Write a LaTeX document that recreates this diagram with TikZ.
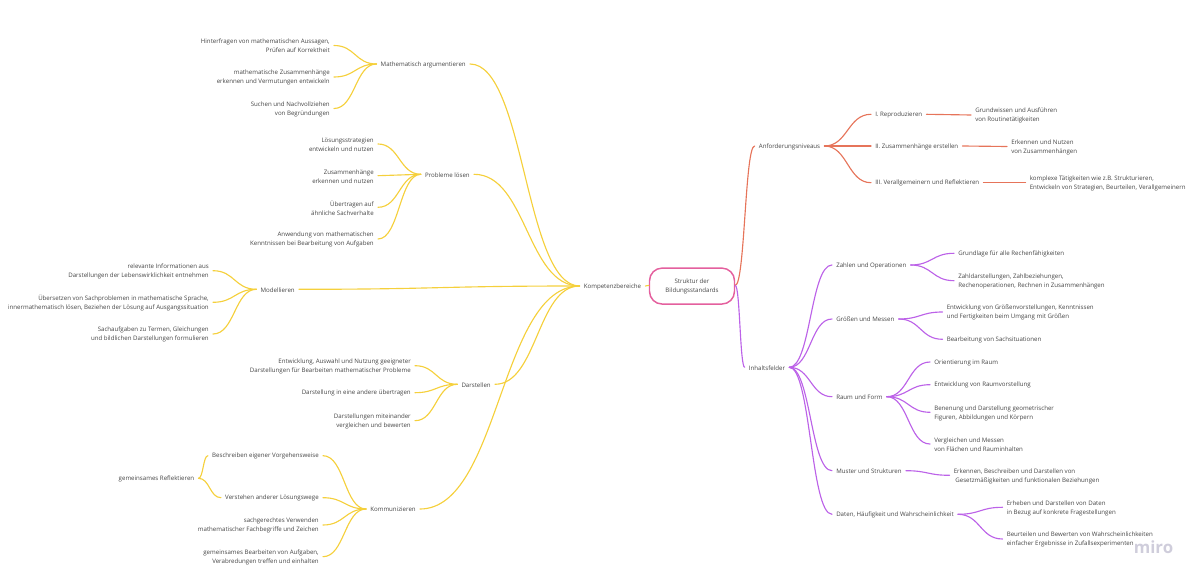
\documentclass[tikz,border=0pt]{standalone}
\usepackage{fontspec}
\setmainfont{Open Sans}
\usetikzlibrary{calc}
\definecolor{yel}{HTML}{F5D03C}
\definecolor{ora}{HTML}{E6745A}
\definecolor{pur}{HTML}{BC62E8}
\definecolor{pnk}{HTML}{E4609E}
\definecolor{txt}{HTML}{454545}
\definecolor{mir}{HTML}{CFCDDB}
\newcommand{\lnk}[3]{\draw[#1,transform canvas={yshift=0.5pt}] (#2) .. controls ($(#2)!0.5!(#3 |- #2)$) and ($(#3)!0.5!(#2 |- #3)$) .. (#3);}
\tikzset{
 base/.style={font=\fontsize{4.6pt}{6.75pt}\selectfont,text=txt,inner xsep=3pt,inner ysep=0pt},
 lbl/.style={base,anchor=east,align=right},
 rbl/.style={base,anchor=west,align=left},
 mid/.style={base,anchor=center,align=center},
 yl/.style={draw=yel,line width=0.85pt,line cap=round},
 og/.style={draw=ora,line width=0.85pt,line cap=round},
 pp/.style={draw=pur,line width=0.85pt,line cap=round},
 rootbox/.style={base,draw=pnk,line width=1.1pt,rounded corners=9.5pt,minimum width=63.75pt,minimum height=27pt,align=center,inner xsep=0pt}
}
\begin{document}
\begin{tikzpicture}[x=0.75pt,y=-0.75pt]
\useasboundingbox (0,0) rectangle (1200,581);
\begin{scope}[yshift=-0.5pt]
% root
\node[rootbox] (root) at (692,285.4) {Struktur der\\Bildungsstandards};
\node[mid] (komp) at (612.5,286) {Kompetenzbereiche};
\node[mid] (anf) at (789.5,146) {Anforderungsniveaus};
\node[mid] (inh) at (767,367.3) {Inhaltsfelder};
% left level 2
\node[lbl] (ma) at (470,64) {Mathematisch argumentieren};
\node[lbl] (pl) at (474,174.3) {Probleme lösen};
\node[lbl] (mo) at (299,289.3) {Modellieren};
\node[lbl] (da) at (495,384.3) {Darstellen};
\node[lbl] (ko) at (420,509) {Kommunizieren};
% left level 3
\node[lbl] (ma1) at (334,45.5) {Hinterfragen von mathematischen Aussagen,\\Prüfen auf Korrektheit};
\node[lbl] (ma2) at (334,77) {mathematische Zusammenhänge\\erkennen und Vermutungen entwickeln};
\node[lbl] (ma3) at (334,108.5) {Suchen und Nachvollziehen\\von Begründungen};
\node[lbl] (pl1) at (378,144) {Lösungsstrategien\\entwickeln und nutzen};
\node[lbl] (pl2) at (378,175.7) {Zusammenhänge\\erkennen und nutzen};
\node[lbl] (pl3) at (378,207.3) {Übertragen auf\\ähnliche Sachverhalte};
\node[lbl] (pl4) at (378,239) {Anwendung von mathematischen\\Kenntnissen bei Bearbeitung von Aufgaben};
\node[lbl] (mo1) at (213,270.7) {relevante Informationen aus\\Darstellungen der Lebenswirklichkeit entnehmen};
\node[lbl] (mo2) at (213,302.3) {Übersetzen von Sachproblemen in mathematische Sprache,\\innermathematisch lösen, Beziehen der Lösung auf Ausgangssituation};
\node[lbl] (mo3) at (213,334) {Sachaufgaben zu Termen, Gleichungen\\und bildlichen Darstellungen formulieren};
\node[lbl] (da1) at (415,365.7) {Entwicklung, Auswahl und Nutzung geeigneter\\Darstellungen für Bearbeiten mathematischer Probleme};
\node[lbl] (da2) at (415,392.7) {Darstellung in eine andere übertragen};
\node[lbl] (da3) at (415,420.7) {Darstellungen miteinander\\vergleichen und bewerten};
\node[lbl] (ko1) at (323,455.7) {Beschreiben eigener Vorgehensweise};
\node[lbl] (ko2) at (323,497.7) {Verstehen anderer Lösungswege};
\node[lbl] (ko3) at (323,525) {sachgerechtes Verwenden\\mathematischer Fachbegriffe und Zeichen};
\node[lbl] (ko4) at (323,556.7) {gemeinsames Bearbeiten von Aufgaben,\\Verabredungen treffen und einhalten};
\node[lbl] (ref) at (198.5,478.3) {gemeinsames Reflektieren};
% right level 2
\node[rbl] (a1) at (871,114.3) {I. Reproduzieren};
\node[rbl] (a2) at (871,146) {II. Zusammenhänge erstellen};
\node[rbl] (a3) at (871,182.7) {III. Verallgemeinern und Reflektieren};
\node[rbl] (a1x) at (971,115) {Grundwissen und Ausführen\\von Routinetätigkeiten};
\node[rbl] (a2x) at (1007,146.5) {Erkennen und Nutzen\\von Zusammenhängen};
\node[rbl] (a3x) at (1025.5,182.7) {komplexe Tätigkeiten wie z.B. Strukturieren,\\Entwickeln von Strategien, Beurteilen, Verallgemeinern};
\node[rbl] (i1) at (832,265) {Zahlen und Operationen};
\node[rbl] (i2) at (832,319) {Größen und Messen};
\node[rbl] (i3) at (832,396.7) {Raum und Form};
\node[rbl] (i4) at (832,470.7) {Muster und Strukturen};
\node[rbl] (i5) at (832,514.3) {Daten, Häufigkeit und Wahrscheinlichkeit};
\node[rbl] (i1a) at (954,253.3) {Grundlage für alle Rechenfähigkeiten};
\node[rbl] (i1b) at (954,280.7) {Zahldarstellungen, Zahlbeziehungen,\\Rechenoperationen, Rechnen in Zusammenhängen};
\node[rbl] (i2a) at (942.5,312) {Entwicklung von Größenvorstellungen, Kenntnissen\\und Fertigkeiten beim Umgang mit Größen};
\node[rbl] (i2b) at (942.5,339.3) {Bearbeitung von Sachsituationen};
\node[rbl] (i3a) at (930,362) {Orientierung im Raum};
\node[rbl] (i3b) at (930,384.7) {Entwicklung von Raumvorstellung};
\node[rbl] (i3c) at (930,412.3) {Benenung und Darstellung geometrischer\\Figuren, Abbildungen und Körpern};
\node[rbl] (i3d) at (930,444) {Vergleichen und Messen\\von Flächen und Rauminhalten};
\node[rbl] (i4a) at (949.5,475.3) {Erkennen, Beschreiben und Darstellen von\\\hspace*{1.2pt}Gesetzmäßigkeiten und funktionalen Beziehungen};
\node[rbl] (i5a) at (1002.5,507.3) {Erheben und Darstellen von Daten\\in Bezug auf konkrete Fragestellungen};
\node[rbl] (i5b) at (1002.5,539) {Beurteilen und Bewerten von Wahrscheinlichkeiten\\einfacher Ergebnisse in Zufallsexperimenten};
\node[anchor=center,inner sep=0pt,text=mir,font=\fontsize{12.6pt}{13pt}\selectfont\bfseries] (miro) at (1153.5,546.5) {miro};
\end{scope}
% connectors
\lnk{yl}{root.west}{komp.east}
\foreach \c in {ma,pl,mo,da,ko}{\lnk{yl}{\c.east}{komp.west}}
\foreach \c in {ma1,ma2,ma3}{\lnk{yl}{\c.east}{ma.west}}
\foreach \c in {pl1,pl2,pl3,pl4}{\lnk{yl}{\c.east}{pl.west}}
\foreach \c in {mo1,mo2,mo3}{\lnk{yl}{\c.east}{mo.west}}
\foreach \c in {da1,da2,da3}{\lnk{yl}{\c.east}{da.west}}
\foreach \c in {ko1,ko2,ko3,ko4}{\lnk{yl}{\c.east}{ko.west}}
\lnk{yl}{ref.east}{ko1.west}
\lnk{yl}{ref.east}{ko2.west}
\lnk{og}{root.east}{anf.west}
\foreach \c in {a1,a2,a3}{\lnk{og}{anf.east}{\c.west}}
\lnk{og}{a1.east}{a1x.west}
\lnk{og}{a2.east}{a2x.west}
\lnk{og}{a3.east}{a3x.west}
\lnk{pp}{root.east}{inh.west}
\foreach \c in {i1,i2,i3,i4,i5}{\lnk{pp}{inh.east}{\c.west}}
\foreach \c in {i1a,i1b}{\lnk{pp}{i1.east}{\c.west}}
\foreach \c in {i2a,i2b}{\lnk{pp}{i2.east}{\c.west}}
\foreach \c in {i3a,i3b,i3c,i3d}{\lnk{pp}{i3.east}{\c.west}}
\lnk{pp}{i4.east}{i4a.west}
\foreach \c in {i5a,i5b}{\lnk{pp}{i5.east}{\c.west}}
\end{tikzpicture}
\end{document}
